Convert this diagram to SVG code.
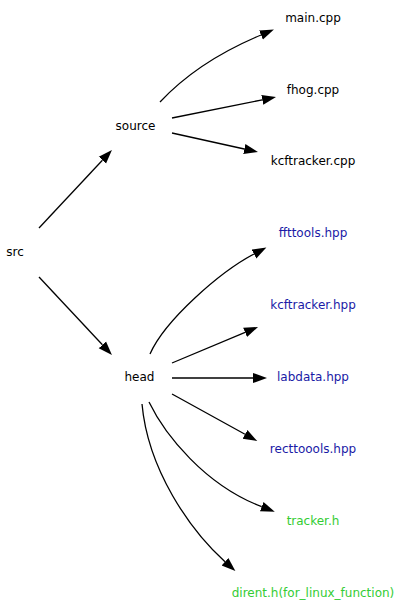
<svg xmlns="http://www.w3.org/2000/svg" width="401" height="616" viewBox="0 0 401 616">
<style>
text{font-family:"DejaVu Sans","Liberation Sans",sans-serif;font-size:12px;text-anchor:middle}
.k{fill:#000}
.b{fill:#1a1aa6}
.g{fill:#33cc33}
.e{fill:none;stroke:#000;stroke-width:1.3;marker-end:url(#ah)}
</style>
<defs>
<marker id="ah" markerUnits="userSpaceOnUse" markerWidth="16" markerHeight="12" viewBox="0 -6 16 12" refX="0" refY="0" orient="auto">
<path d="M0,-5 L14,0 L0,5 z" fill="#000"/>
</marker>
</defs>
<rect width="401" height="616" fill="#fff"/>
<g id="connectors">
<path class="e" d="M39,228 L102.4,160.2"/>
<path class="e" d="M39,277 L102.4,344.8"/>
<path class="e" d="M160,102 C190,70 225,50 261,35"/>
<path class="e" d="M172,118 L262.3,99.8"/>
<path class="e" d="M172,133 L244.3,149"/>
<path class="e" d="M150,354 C165,320 220,272 254,254"/>
<path class="e" d="M172,363 L245.1,332.4"/>
<path class="e" d="M172,378 L253,378"/>
<path class="e" d="M172,394 L245,434.3"/>
<path class="e" d="M149,402 C165,435 205,485 261.7,506.7"/>
<path class="e" d="M142,404 C148,470 190,530 225,561.7"/>
</g>
<g id="src"><text class="k" x="15" y="256">src</text></g>
<g id="source"><text class="k" x="135.5" y="130">source</text></g>
<g id="head"><text class="k" x="139.5" y="381">head</text></g>
<g id="main_cpp"><text class="k" x="313" y="22">main.cpp</text></g>
<g id="fhog_cpp"><text class="k" x="313" y="94">fhog.cpp</text></g>
<g id="kcftracker_cpp"><text class="k" x="313" y="165">kcftracker.cpp</text></g>
<g id="ffttools_hpp"><text class="b" x="313" y="237">ffttools.hpp</text></g>
<g id="kcftracker_hpp"><text class="b" x="313" y="309">kcftracker.hpp</text></g>
<g id="labdata_hpp"><text class="b" x="313" y="381">labdata.hpp</text></g>
<g id="recttoools_hpp"><text class="b" x="313" y="453">recttoools.hpp</text></g>
<g id="tracker_h"><text class="g" x="313" y="525">tracker.h</text></g>
<g id="dirent_h"><text class="g" x="313" y="597">dirent.h(for_linux_function)</text></g>
</svg>
